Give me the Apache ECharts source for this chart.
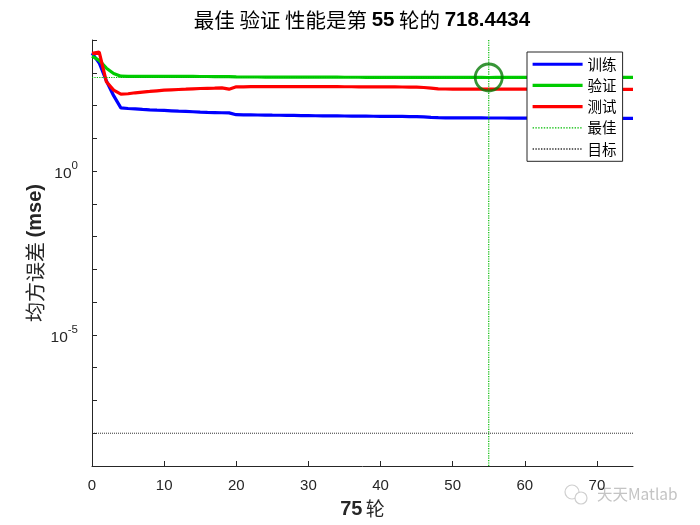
<!DOCTYPE html>
<html><head><meta charset="utf-8">
<script src="https://cdn.jsdelivr.net/npm/echarts@6/dist/echarts.min.js"></script>
<style>html,body{margin:0;padding:0;background:#fff}#c{width:700px;height:525px}</style>
</head><body><div id="c"></div>
<script>
// Epoch index = position in each array (0..75)
const trainMse = [3981,1995,562,200,85.1,
  81.3,79.4,75.9,74.1,72.4,70.8,69.2,67.6,66.1,64.6,63.1,61.7,61.0,60.3,59.6,
  52.5,52.2,51.9,51.5,51.2,50.8,50.5,50.1,49.8,49.4,49.1,48.8,
  48.5,48.3,48.1,47.9,47.7,47.5,47.3,47.1,46.9,46.8,46.6,46.4,46.2,46.0,
  45.2,43.7,42.5,42.2,
  42.0,41.9,41.9,41.8,41.8,41.7,41.6,41.6,41.5,41.5,41.4,41.4,41.3,41.3,41.2,41.2,41.1,41.1,41.0,41.0,40.9,40.9,40.8,40.8,40.7,40.6];
const valMse = [3236,2399,1380,955,785,
  780,779,778,777,776,775,774,773,772,771,770,769,768,767,766,
  745,744,743,742,741,740,739,738,737,736,735,734.5,734,733,732,731,730,729,728.5,728,
  727,726,725.5,725,724.5,724,723.5,723,722.5,722,721.5,721,720.5,720,719.5,
  718.4434,
  719.2,719.5,719.8,720.1,720.3,720.6,720.8,721.0,721.3,721.5,721.8,722.0,722.2,722.5,722.7,722.9,723.1,723.4,723.6,723.8];
const testMse = [3890,4266,530,295,224,229,245,257,269,282,295,302,309,316,324,331,335,339,347,316,372,373,376,378,378,
  380,380,380,379,379,378,378,
  377,376,376,375,374,373,372,372,371,370,369,368,367,366,
  355,339,324,320,
  319,319,318,318,318,317,317,317,316,316,316,315,315,315,314,314,314,314,313,313,313,313,312,312,312,312];
const bestEpoch = 55;
const bestPerf = 718.4434;
const goalMse = 1e-8;
const totalEpochs = 75;
const yMin = 1e-9, yMax = 1e4;
const legendNames = ['训练','验证','测试','最佳','目标'];
const yLabelExps = [0, -5];

const pairs = arr => arr.map((v, i) => [i, v]);
const CJK = '"Noto Sans CJK SC", sans-serif';
const LAT = '"Liberation Sans", Arial, sans-serif';
const axisColor = '#262626';
const bestColor = '#00bb00';

const chart = echarts.init(document.getElementById('c'), null, {renderer: 'canvas'});
chart.setOption({
  animation: false,
  backgroundColor: '#fff',
  title: {
    text: '{c|最佳 验证 性能是第 }{b|' + bestEpoch + '}{c| 轮的 }{b|' + bestPerf + '}',
    left: 362, top: 10, textAlign: 'center', padding: 0,
    textStyle: {
      rich: {
        c: {fontFamily: CJK, fontSize: 20.5, fontWeight: 'normal', color: '#000'},
        b: {fontFamily: LAT, fontSize: 20.5, fontWeight: 'bold', color: '#000'}
      }
    }
  },
  grid: {left: 92, right: 67, top: 40, bottom: 59},
  legend: {
    orient: 'vertical', left: 527, top: 52,
    data: legendNames.map((n, i) => ({name: n, lineStyle: i < 3 ? {width: 3.2} : {width: 1.4, type: 'dotted'}})),
    itemWidth: 50, itemHeight: 14, itemGap: 6.7,
    itemStyle: {opacity: 0},
    backgroundColor: '#fff', borderColor: axisColor, borderWidth: 1, borderRadius: 0,
    padding: [5, 6, 5, 4],
    textStyle: {fontFamily: CJK, fontSize: 14.5, color: '#000', lineHeight: 14},
    selectedMode: false
  },
  xAxis: {
    type: 'value', min: 0, max: totalEpochs, interval: 10,
    axisLine: {onZero: false, lineStyle: {color: axisColor, width: 1}},
    axisTick: {inside: true, length: 5, lineStyle: {color: axisColor}},
    axisLabel: {fontFamily: LAT, fontSize: 15, color: axisColor, margin: 12, showMaxLabel: false},
    splitLine: {show: false},
    name: '{b|' + totalEpochs + '} {c|轮}',
    nameLocation: 'middle', nameGap: 33, nameMoveOverlap: false,
    nameTextStyle: {
      rich: {
        b: {fontFamily: LAT, fontSize: 20, fontWeight: 'bold', color: axisColor},
        c: {fontFamily: CJK, fontSize: 19, color: axisColor}
      }
    }
  },
  yAxis: {
    type: 'log', logBase: 10, min: yMin, max: yMax, interval: 1, splitNumber: 13,
    axisLine: {show: true, lineStyle: {color: axisColor, width: 1}},
    axisTick: {show: true, inside: true, length: 5, lineStyle: {color: axisColor}},
    axisLabel: {
      margin: 14,
      formatter: function (v) {
        const e = Math.round(Math.log10(v));
        return yLabelExps.indexOf(e) >= 0 ? '{b|10}{s|' + e + '}' : '';
      },
      rich: {
        b: {fontFamily: LAT, fontSize: 15.5, color: axisColor, lineHeight: 22, verticalAlign: 'bottom'},
        s: {fontFamily: LAT, fontSize: 11.5, color: axisColor, lineHeight: 16, verticalAlign: 'top'}
      }
    },
    splitLine: {show: false},
    minorTick: {show: false},
    name: '{c|均方误差 }{b|(mse)}',
    nameLocation: 'middle', nameGap: 47, nameRotate: 90, nameMoveOverlap: false,
    nameTextStyle: {
      rich: {
        b: {fontFamily: LAT, fontSize: 20, fontWeight: 'bold', color: axisColor},
        c: {fontFamily: CJK, fontSize: 20, color: axisColor}
      }
    }
  },
  series: [
    {name: '训练', type: 'line', data: pairs(trainMse), symbol: 'none', lineStyle: {color: '#0000ff', width: 3.2}, itemStyle: {color: '#0000ff'}, z: 2},
    {name: '验证', type: 'line', data: pairs(valMse), symbol: 'none', lineStyle: {color: '#00cc00', width: 3.2}, itemStyle: {color: '#00cc00'}, z: 2},
    {name: '测试', type: 'line', data: pairs(testMse), symbol: 'none', lineStyle: {color: '#ff0000', width: 3.2}, itemStyle: {color: '#ff0000'}, z: 2},
    {name: '最佳', type: 'line', data: [[bestEpoch, yMin], [bestEpoch, yMax]], symbol: 'none', lineStyle: {color: bestColor, width: 1.2, type: 'dotted'}, itemStyle: {color: bestColor}, z: 3},
    {name: '最佳', type: 'line', data: [[0, bestPerf], [totalEpochs, bestPerf]], symbol: 'none', lineStyle: {color: bestColor, width: 1.2, type: 'dotted'}, itemStyle: {color: bestColor}, z: 3},
    {name: '目标', type: 'line', data: [[0, goalMse], [totalEpochs, goalMse]], symbol: 'none', lineStyle: {color: '#333', width: 1, type: 'dotted'}, itemStyle: {color: '#333'}, z: 3},
    {name: 'bestMark', type: 'scatter', data: [[bestEpoch, bestPerf]], symbol: 'circle', symbolSize: 27,
     itemStyle: {color: 'rgba(0,0,0,0)', borderColor: '#057a05', borderWidth: 2.8}, z: 4, silent: true}
  ],
  graphic: [
    {type: 'circle', shape: {cx: 572, cy: 492, r: 7}, style: {fill: 'none', stroke: '#cfcfcf', lineWidth: 1.2}},
    {type: 'circle', shape: {cx: 581, cy: 498, r: 6}, style: {fill: '#fff', stroke: '#cfcfcf', lineWidth: 1.2}},
    {type: 'text', x: 597, y: 486, style: {text: '天天Matlab', fontFamily: CJK, fontSize: 15.5, fill: '#c4c4c4'}}
  ]
});
</script>
</body></html>
